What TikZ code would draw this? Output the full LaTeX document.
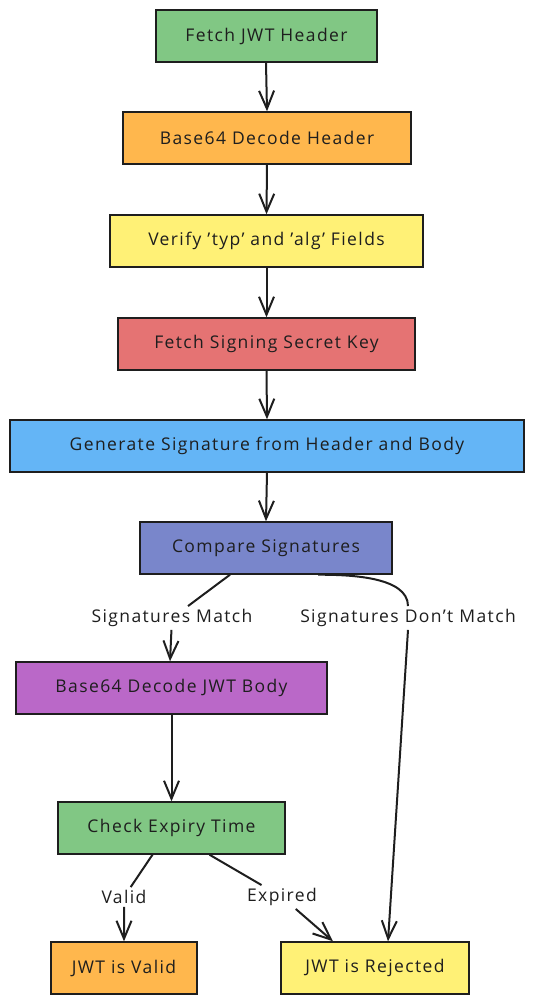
\documentclass[tikz,border=0pt]{standalone}
\usepackage{fontspec}
\setmainfont[LetterSpace=8]{Open Sans}
\usetikzlibrary{arrows.meta,positioning}
\definecolor{boxgreen}{HTML}{81C784}
\definecolor{boxorange}{HTML}{FFB74D}
\definecolor{boxyellow}{HTML}{FFF176}
\definecolor{boxred}{HTML}{E57373}
\definecolor{boxblue}{HTML}{64B5F6}
\definecolor{boxindigo}{HTML}{7986CB}
\definecolor{boxpurple}{HTML}{BA68C8}
\definecolor{ink}{HTML}{1E1E1E}

\begin{document}
\begin{tikzpicture}[x=1pt,y=-1pt,
  procbox/.style={draw=ink,line width=1.4pt,minimum height=52pt,inner sep=0pt,
    font=\fontsize{17.5}{20}\selectfont,text=ink},
  flow/.style={draw=ink,line width=2pt,-{Straight Barb[length=18pt,width=15pt,line width=2pt]}},
  edgelabel/.style={fill=white,inner sep=3pt,font=\fontsize{17.5}{20}\selectfont,text=ink}]
  \useasboundingbox (0,0) rectangle (534,1005);
  % main chain
  \node[procbox,fill=boxgreen,minimum width=221pt] (fetch) at (266.5,36) {Fetch JWT Header};
  \node[procbox,fill=boxorange,minimum width=288pt] (decode) at (267,138) {Base64 Decode Header};
  \node[procbox,fill=boxyellow,minimum width=313pt] (verify) at (266.5,241) {Verify 'typ' and 'alg' Fields};
  \node[procbox,fill=boxred,minimum width=297pt] (secret) at (266.5,344) {Fetch Signing Secret Key};
  \node[procbox,fill=boxblue,minimum width=514pt] (gensig) at (267,446) {Generate Signature from Header and Body};
  \node[procbox,fill=boxindigo,minimum width=252pt] (compare) at (266,548) {Compare Signatures};
  % branches
  \node[procbox,fill=boxpurple,minimum width=311pt] (body) at (171.5,688) {Base64 Decode JWT Body};
  \node[procbox,fill=boxgreen,minimum width=227pt] (expiry) at (171.5,828) {Check Expiry Time};
  \node[procbox,fill=boxorange,minimum width=146pt] (valid) at (124,968) {JWT is Valid};
  \node[procbox,fill=boxyellow,minimum width=188pt] (rejected) at (375,968) {JWT is Rejected};
  % labels
  \node[edgelabel] (matchlbl) at (172,618) {Signatures Match};
  \node[edgelabel] (nomatchlbl) at (408,618) {Signatures Don't Match};
  \node[edgelabel] (validlbl) at (124,897) {Valid};
  \node[edgelabel] (expiredlbl) at (282,897) {Expired};
  % connectors
  \draw[flow] ([xshift=-0.5pt]fetch.south) -- (decode.north);
  \draw[flow] (decode.south) -- (verify.north);
  \draw[flow] (verify.south) -- (secret.north);
  \draw[flow] (secret.south) -- (gensig.north);
  \draw[flow] (gensig.south) -- (compare.north);
  \draw[flow] ([xshift=-36pt]compare.south) -- (matchlbl) -- ([xshift=-1.5pt]body.north);
  \draw[flow] ([xshift=52pt]compare.south) to[out=0,in=90,looseness=0.8] (nomatchlbl.north)
    (nomatchlbl.south) -- ([xshift=13pt]rejected.north);
  \draw[flow] (body.south) -- (expiry.north);
  \draw[flow] ([xshift=-19pt]expiry.south) -- (validlbl) -- (valid.north);
  \draw[flow] ([xshift=38pt]expiry.south) -- (expiredlbl) -- ([xshift=-42pt]rejected.north);
\end{tikzpicture}
\end{document}
